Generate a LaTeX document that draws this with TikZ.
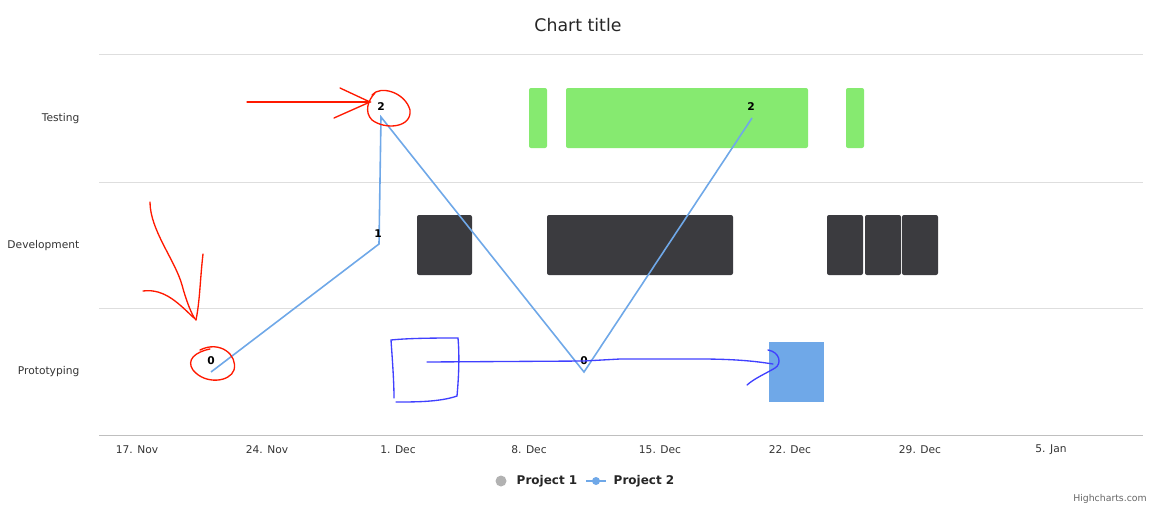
\documentclass[tikz,border=0pt]{standalone}
\usepackage{fontspec}
\setmainfont{DejaVu Sans}
\begin{document}
\begin{tikzpicture}[x=0.75pt,y=-0.75pt,
  grid/.style={draw=black!13,line width=0.6pt},
  lbl/.style={font=\fontsize{8}{9}\selectfont,text=black!80},
  val/.style={font=\fontsize{8}{9}\selectfont\bfseries,text=black},
  red/.style={draw=red!80!orange,line width=1pt,line cap=round},
  blu/.style={draw=blue!75,line width=1pt,line cap=round}]
\useasboundingbox (0,0) rectangle (1153,518);
\definecolor{grn}{HTML}{86EA70}\definecolor{drk}{HTML}{3B3B3F}\definecolor{lb}{HTML}{6FA8E8}
\node[font=\fontsize{13}{15}\selectfont,text=black!85] (title) at (578,25) {Chart title};
\foreach \y in {54,182,308} \draw[grid] (99,\y) -- (1143,\y);
\draw[draw=black!25,line width=0.6pt] (99,435) -- (1143,435);
\foreach \x/\t in {137/17. Nov,267/24. Nov,398/1. Dec,529/8. Dec,660/15. Dec,790/22. Dec,920/29. Dec,1051/5. Jan}
  \node[lbl] at (\x,450) {\t};
\node[lbl,anchor=east] (c1) at (84,119) {Testing};
\node[lbl,anchor=east] (c2) at (84,246) {Development};
\node[lbl,anchor=east] (c3) at (84,372) {Prototyping};
\foreach \a/\b in {529/547,566/808,846/864} \fill[grn,rounded corners=1.5pt] (\a,88) rectangle (\b,148);
\foreach \a/\b in {417/472,547/733,827/863,865/901,902/938} \fill[drk,rounded corners=1.5pt] (\a,215) rectangle (\b,275);
\fill[lb] (769,342) rectangle (824,402);
\coordinate (p0) at (211,372);\coordinate (p1) at (379,244);\coordinate (p2) at (381,117);
\coordinate (p3) at (584,372);\coordinate (p4) at (752,118);
\draw[lb,line width=1.2pt] (p0) -- (p1) -- (p2) -- (p3) -- (p4);
\node[val] at (211,361) {0};\node[val] at (378,234) {1};\node[val] at (381,107) {2};
\node[val] at (584,361) {0};\node[val] at (751,107) {2};
\fill[black!30] (501,481) circle (5.5);
\node[font=\fontsize{9}{11}\selectfont\bfseries,text=black!85,anchor=west] (l1) at (512,481) {Project 1};
\draw[lb,line width=1.2pt] (586,481) -- (606,481); \fill[lb] (596,481) circle (4);
\node[font=\fontsize{9}{11}\selectfont\bfseries,text=black!85,anchor=west] (l2) at (609,481) {Project 2};
\node[font=\fontsize{7}{8}\selectfont,text=black!60] at (1110,499) {Highcharts.com};
% red annotations
\draw[red] (247,102) -- (370,102);
\draw[red] (340,88) -- (370,102) -- (334,118);
\draw[red] (372,95) .. controls (380,85) and (405,92) .. (410,110) .. controls (412,128) and (385,130) .. (372,120) .. controls (364,112) and (368,100) .. (375,93);
\draw[red] (200,350) .. controls (220,340) and (238,355) .. (234,370) .. controls (230,382) and (205,385) .. (193,370) .. controls (186,360) and (195,352) .. (210,349);
\draw[red] (150,202) .. controls (150,230) and (175,260) .. (182,285) .. controls (186,300) and (192,316) .. (196,320);
\draw[red] (203,254) .. controls (200,280) and (200,300) .. (196,320);
\draw[red] (143,291) .. controls (165,288) and (180,305) .. (194,318);
% blue annotations
\draw[blu] (394,398) .. controls (394,380) and (392,355) .. (391,340) .. controls (410,338) and (440,338) .. (458,338) .. controls (460,360) and (458,385) .. (457,396) .. controls (440,402) and (415,402) .. (396,402);
\draw[blu] (427,362) -- (584,361) -- (620,359) -- (700,359) .. controls (740,359) and (760,362) .. (773,364);
\draw[blu] (768,350) .. controls (780,352) and (782,364) .. (775,368) .. controls (765,374) and (755,378) .. (747,385);
\end{tikzpicture}
\end{document}
